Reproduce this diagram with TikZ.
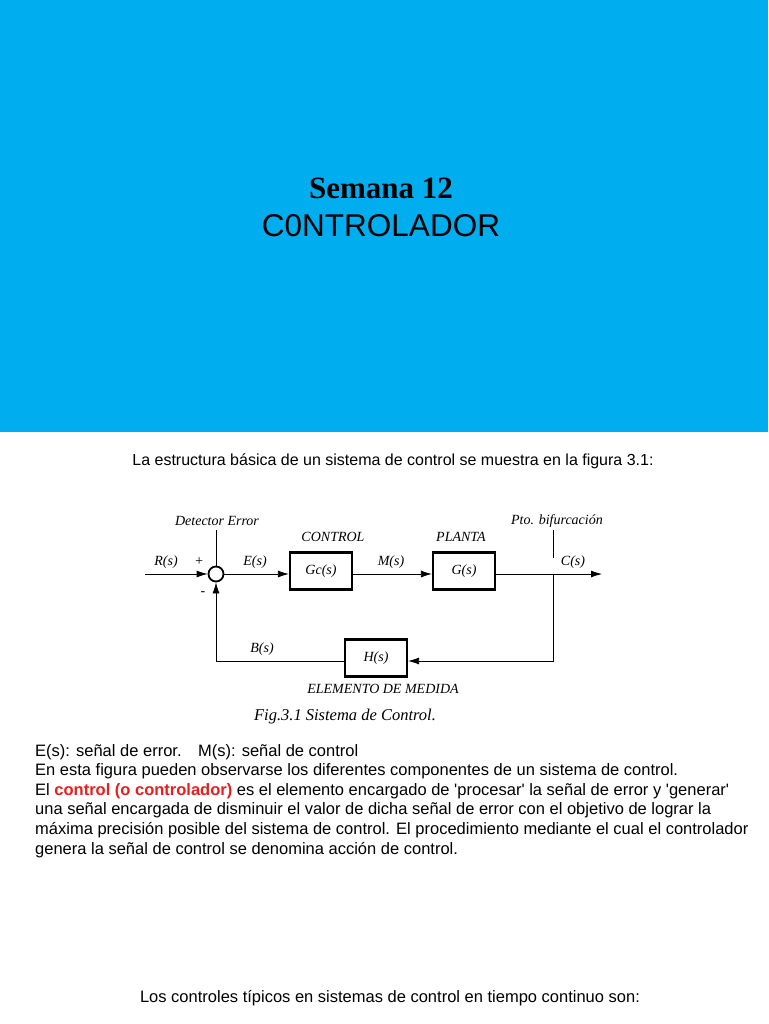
\documentclass[tikz,border=0pt]{standalone}
\usepackage{fontspec}
\setmainfont{Liberation Serif}
\setsansfont{Liberation Sans}
\usetikzlibrary{arrows.meta}
\definecolor{hdr}{RGB}{0,174,239}
\definecolor{redt}{RGB}{230,30,30}
\newcommand\sq{\textquotesingle}
\begin{document}
\begin{tikzpicture}[x=1pt,y=-1pt,
  blk/.style={draw,line width=2.2pt,minimum width=62pt,minimum height=37pt,inner sep=0pt,font=\itshape\fontsize{14}{14}\selectfont},
  lbl/.style={font=\itshape\fontsize{14}{14}\selectfont,inner sep=0pt},
  body/.style={font=\sffamily\fontsize{16.5}{19.6}\selectfont,anchor=north west,inner sep=0pt,align=left},
  ln/.style={line width=0.8pt},
  arr/.style={ln,-{Latex[length=11pt,width=7pt]}}]
\useasboundingbox (0,0) rectangle (768,1024);
\fill[hdr] (0,0) rectangle (768,432);
\node (t1) at (381,188) {\fontsize{31}{31}\selectfont\bfseries Semana 12};
\node (t2) at (381,226) {\sffamily\fontsize{31.5}{31.5}\selectfont C0NTROLADOR};
\node (intro) at (393,461) {\sffamily\fontsize{16}{16}\selectfont La estructura básica de un sistema de control se muestra en la figura 3.1:};
% diagram
\coordinate (in) at (145,574);
\node[draw,circle,line width=1.8pt,minimum size=15pt,inner sep=0pt] (sum) at (216,574) {};
\node[blk] (gc) at (321,571) {Gc(s)};
\node[blk] (g) at (464,571) {G(s)};
\node[blk] (h) at (376,658) {H(s)};
\coordinate (br) at (553,574);
\coordinate (out) at (602,574);
\coordinate (brd) at (553,661);
\coordinate (hl) at (216,661);
\coordinate (det) at (216,530);
\coordinate (pto) at (553,530);
\coordinate (ptoe) at (553,558);
\draw[arr] (in) -- (sum);
\draw[arr] (sum) -- (gc.west|-sum);
\draw[arr] (gc.east|-sum) -- (g.west|-sum);
\draw[ln] (g.east|-sum) -- (br);
\draw[arr] (br) -- (out);
\draw[arr] (br) -- (brd) -- (h.east|-brd);
\draw[arr] (h.west|-brd) -- (hl) -- (sum);
\draw[ln] (det) -- (sum);
\draw[ln] (pto) -- (ptoe);
\node[lbl] (l1) at (217,521) {Detector Error};
\node[lbl] (l2) at (333,537) {CONTROL};
\node[lbl] (l3) at (461,537) {PLANTA};
\node[lbl] (l4) at (557,521) {Pto. bifurcación};
\node[lbl] (l5) at (166,562) {R(s)};
\node[lbl] (l6) at (199,562) {+};
\node[lbl] (l7) at (255,562) {E(s)};
\node[lbl] (l8) at (391,562) {M(s)};
\node[lbl] (l9) at (573,562) {C(s)};
\node[lbl] (l10) at (203,594) {-};
\node[lbl] (l11) at (262,649) {B(s)};
\node[lbl] (l12) at (383,689) {ELEMENTO DE MEDIDA};
\node[lbl,font=\itshape\fontsize{16.5}{16.5}\selectfont] (cap) at (345,717) {Fig.3.1 Sistema de Control.};
\node[body] (txt) at (35,744) {E(s): señal de error.\quad M(s): señal de control\\
En esta figura pueden observarse los diferentes componentes de un sistema de control.\\
El {\color{redt}\bfseries control (o controlador)} es el elemento encargado de \sq procesar\sq{} la señal de error y \sq generar\sq\\
una señal encargada de disminuir el valor de dicha señal de error con el objetivo de lograr la\\
máxima precisión posible del sistema de control. El procedimiento mediante el cual el controlador\\
genera la señal de control se denomina acción de control.};
\node (last) at (390,998) {\sffamily\fontsize{16.5}{16.5}\selectfont Los controles típicos en sistemas de control en tiempo continuo son:};
\end{tikzpicture}
\end{document}
